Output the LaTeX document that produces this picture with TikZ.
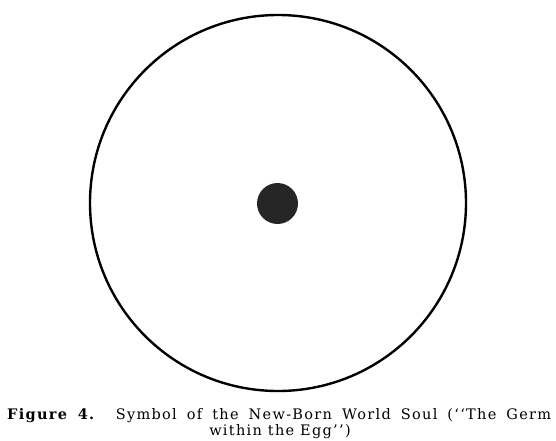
\documentclass[tikz,border=0pt]{standalone}
\usepackage{fontspec}
\setmainfont{DejaVu Serif}[LetterSpace=9]
\usepackage{tikz}

\begin{document}
\begin{tikzpicture}[x=1pt,y=-1pt]
   \useasboundingbox (0,0) rectangle (556,441);

   % the egg and the germ
   \draw[line width=2.4pt] (278,203) circle (188);
   \fill[black!85] (277.5,203.5) circle (20.5);

   % caption
   \node[anchor=base west,inner sep=0pt,font=\fontsize{14.5}{16}\selectfont] (caption1) at (7,419)
      {\makebox[544pt][s]{\textbf{Figure 4.} Symbol of the New-Born World Soul (‘‘The Germ}};
   \node[anchor=base,inner sep=0pt,font=\fontsize{14.5}{16}\selectfont] (caption2) at (280,435)
      {within the Egg’’)};
\end{tikzpicture}
\end{document}
